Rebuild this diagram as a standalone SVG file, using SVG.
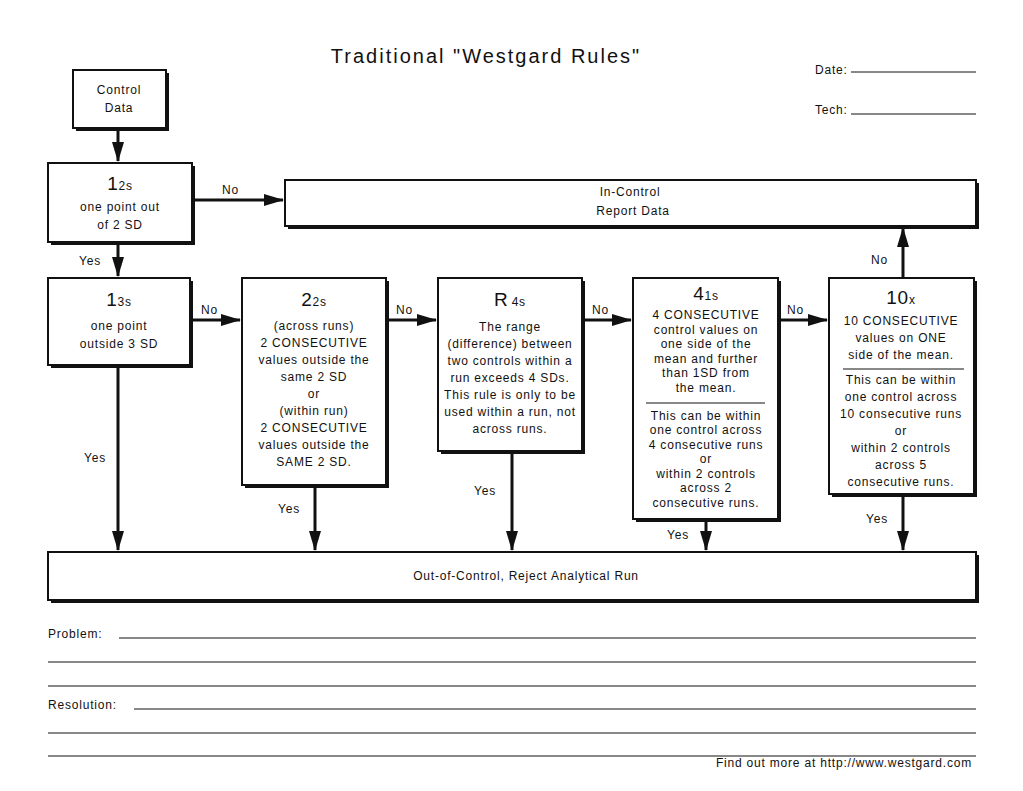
<svg xmlns="http://www.w3.org/2000/svg" width="1023" height="791" viewBox="0 0 1023 791">
<style>
text{font-family:"Liberation Sans",Arial,sans-serif;fill:#111;letter-spacing:0.8px}
.t{font-size:12px;text-anchor:middle}
.big{font-size:19px;text-anchor:middle}
.sub{font-size:12px}
.lab{font-size:12px}
.box{fill:#fff;stroke:#111;stroke-width:2}
.sh{fill:#111}
.ln{stroke:#111;stroke-width:1}
.c{stroke:#111;stroke-width:3;fill:none;marker-end:url(#ah)}
</style>
<defs>
<marker id="ah" markerWidth="8" markerHeight="8" refX="7" refY="4" orient="auto" markerUnits="userSpaceOnUse" viewBox="0 0 8 8"><path d="M0,0 L8,4 L0,8 Z" fill="#111"/></marker>
<marker id="ahb" markerWidth="20" markerHeight="12" refX="19" refY="6" orient="auto" markerUnits="userSpaceOnUse" viewBox="0 0 20 12"><path d="M0,0 L20,6 L0,12 Z" fill="#111"/></marker>
</defs>
<rect width="1023" height="791" fill="#fff"/>
<text x="486" y="63" style="font-size:20px;letter-spacing:2px" text-anchor="middle">Traditional "Westgard Rules"</text>
<text x="815" y="74" class="lab">Date:</text><line class="ln" x1="851" y1="72" x2="976" y2="72"/>
<text x="815" y="114" class="lab">Tech:</text><line class="ln" x1="851" y1="114" x2="976" y2="114"/>

<g id="connectors" stroke="#111" stroke-width="3" fill="none">
<path d="M118,128 V161" marker-end="url(#ahb)"/>
<path d="M118,242 V276" marker-end="url(#ahb)"/>
<path d="M192,200 H283" marker-end="url(#ahb)"/>
<path d="M190,320 H240" marker-end="url(#ahb)"/>
<path d="M386,320 H436" marker-end="url(#ahb)"/>
<path d="M582,320 H631" marker-end="url(#ahb)"/>
<path d="M778,320 H827" marker-end="url(#ahb)"/>
<path d="M903,278 V228" marker-end="url(#ahb)"/>
<path d="M118,365 V550" marker-end="url(#ahb)"/>
<path d="M315,485 V550" marker-end="url(#ahb)"/>
<path d="M512,451 V550" marker-end="url(#ahb)"/>
<path d="M706,519 V550" marker-end="url(#ahb)"/>
<path d="M903,494 V550" marker-end="url(#ahb)"/>
</g>
<g id="conn-labels" class="lab">
<text x="222" y="194">No</text>
<text x="79" y="265">Yes</text>
<text x="201" y="314">No</text>
<text x="396" y="314">No</text>
<text x="592" y="314">No</text>
<text x="787" y="314">No</text>
<text x="871" y="264">No</text>
<text x="84" y="462">Yes</text>
<text x="278" y="513">Yes</text>
<text x="474" y="495">Yes</text>
<text x="667" y="539">Yes</text>
<text x="866" y="523">Yes</text>
</g>

<g id="control-data">
<rect class="sh" x="76" y="73" width="93" height="58"/><rect class="box" x="73" y="70" width="93" height="58"/>
<text class="t" x="119" y="94">Control</text><text class="t" x="119" y="112">Data</text>
</g>
<g id="r12s">
<rect class="sh" x="51" y="166" width="144" height="79"/><rect class="box" x="48" y="163" width="144" height="79"/>
<text class="big" x="120" y="190">1<tspan class="sub">2s</tspan></text>
<text class="t" x="120" y="211">one point out</text><text class="t" x="120" y="229">of 2 SD</text>
</g>
<g id="in-control">
<rect class="sh" x="288" y="183" width="691" height="46"/><rect class="box" x="285" y="180" width="691" height="46"/>
<text class="t" x="630" y="196">In-Control</text><text class="t" x="633" y="215">Report Data</text>
</g>
<g id="r13s">
<rect class="sh" x="51" y="281" width="142" height="87"/><rect class="box" x="48" y="278" width="142" height="87"/>
<text class="big" x="119" y="306">1<tspan class="sub">3s</tspan></text>
<text class="t" x="119" y="330">one point</text><text class="t" x="119" y="348">outside 3 SD</text>
</g>
<g id="r22s">
<rect class="sh" x="245" y="281" width="144" height="207"/><rect class="box" x="242" y="278" width="144" height="207"/>
<text class="big" x="314" y="306">2<tspan class="sub">2s</tspan></text>
<text class="t" x="314" y="330">(across runs)</text>
<text class="t" x="314" y="347">2 CONSECUTIVE</text>
<text class="t" x="314" y="364">values outside the</text>
<text class="t" x="314" y="381">same 2 SD</text>
<text class="t" x="314" y="398">or</text>
<text class="t" x="314" y="415">(within run)</text>
<text class="t" x="314" y="432">2 CONSECUTIVE</text>
<text class="t" x="314" y="449">values outside the</text>
<text class="t" x="314" y="466">SAME 2 SD.</text>
</g>
<g id="r4s">
<rect class="sh" x="441" y="281" width="144" height="173"/><rect class="box" x="438" y="278" width="144" height="173"/>
<text class="big" x="510" y="306">R<tspan class="sub" dx="3">4s</tspan></text>
<text class="t" x="510" y="331">The range</text>
<text class="t" x="510" y="348">(difference) between</text>
<text class="t" x="510" y="365">two controls within a</text>
<text class="t" x="510" y="382">run exceeds 4 SDs.</text>
<text class="t" x="510" y="399">This rule is only to be</text>
<text class="t" x="510" y="416">used within a run, not</text>
<text class="t" x="510" y="433">across runs.</text>
</g>
<g id="r41s">
<rect class="sh" x="636" y="281" width="145" height="241"/><rect class="box" x="633" y="278" width="145" height="241"/>
<text class="big" x="706" y="300">4<tspan class="sub">1s</tspan></text>
<text class="t" x="706" y="319">4 CONSECUTIVE</text>
<text class="t" x="706" y="334">control values on</text>
<text class="t" x="706" y="348">one side of the</text>
<text class="t" x="706" y="363">mean and further</text>
<text class="t" x="706" y="377">than 1SD from</text>
<text class="t" x="706" y="392">the mean.</text>
<line class="ln" x1="646" y1="403" x2="765" y2="403"/>
<text class="t" x="706" y="420">This can be within</text>
<text class="t" x="706" y="434">one control across</text>
<text class="t" x="706" y="449">4 consecutive runs</text>
<text class="t" x="706" y="463">or</text>
<text class="t" x="706" y="478">within 2 controls</text>
<text class="t" x="706" y="492">across 2</text>
<text class="t" x="706" y="507">consecutive runs.</text>
</g>
<g id="r10x">
<rect class="sh" x="832" y="281" width="145" height="216"/><rect class="box" x="829" y="278" width="145" height="216"/>
<text class="big" x="901" y="304">10<tspan class="sub">x</tspan></text>
<text class="t" x="901" y="325">10 CONSECUTIVE</text>
<text class="t" x="901" y="342">values on ONE</text>
<text class="t" x="901" y="359">side of the mean.</text>
<line class="ln" x1="843" y1="369" x2="964" y2="369"/>
<text class="t" x="901" y="384">This can be within</text>
<text class="t" x="901" y="401">one control across</text>
<text class="t" x="901" y="418">10 consecutive runs</text>
<text class="t" x="901" y="435">or</text>
<text class="t" x="901" y="452">within 2 controls</text>
<text class="t" x="901" y="469">across 5</text>
<text class="t" x="901" y="486">consecutive runs.</text>
</g>
<g id="out-of-control">
<rect class="sh" x="51" y="555" width="928" height="48"/><rect class="box" x="48" y="552" width="928" height="48"/>
<text class="t" x="526" y="580">Out-of-Control,  Reject Analytical Run</text>
</g>

<text x="48" y="638" class="lab">Problem:</text>
<line class="ln" x1="119" y1="638" x2="976" y2="638"/>
<line class="ln" x1="48" y1="662" x2="976" y2="662"/>
<line class="ln" x1="48" y1="686" x2="976" y2="686"/>
<text x="48" y="709" class="lab">Resolution:</text>
<line class="ln" x1="134" y1="709" x2="976" y2="709"/>
<line class="ln" x1="48" y1="733" x2="976" y2="733"/>
<line class="ln" x1="48" y1="756" x2="976" y2="756"/>
<text x="972" y="767" class="lab" text-anchor="end">Find out more at http://www.westgard.com</text>
</svg>
